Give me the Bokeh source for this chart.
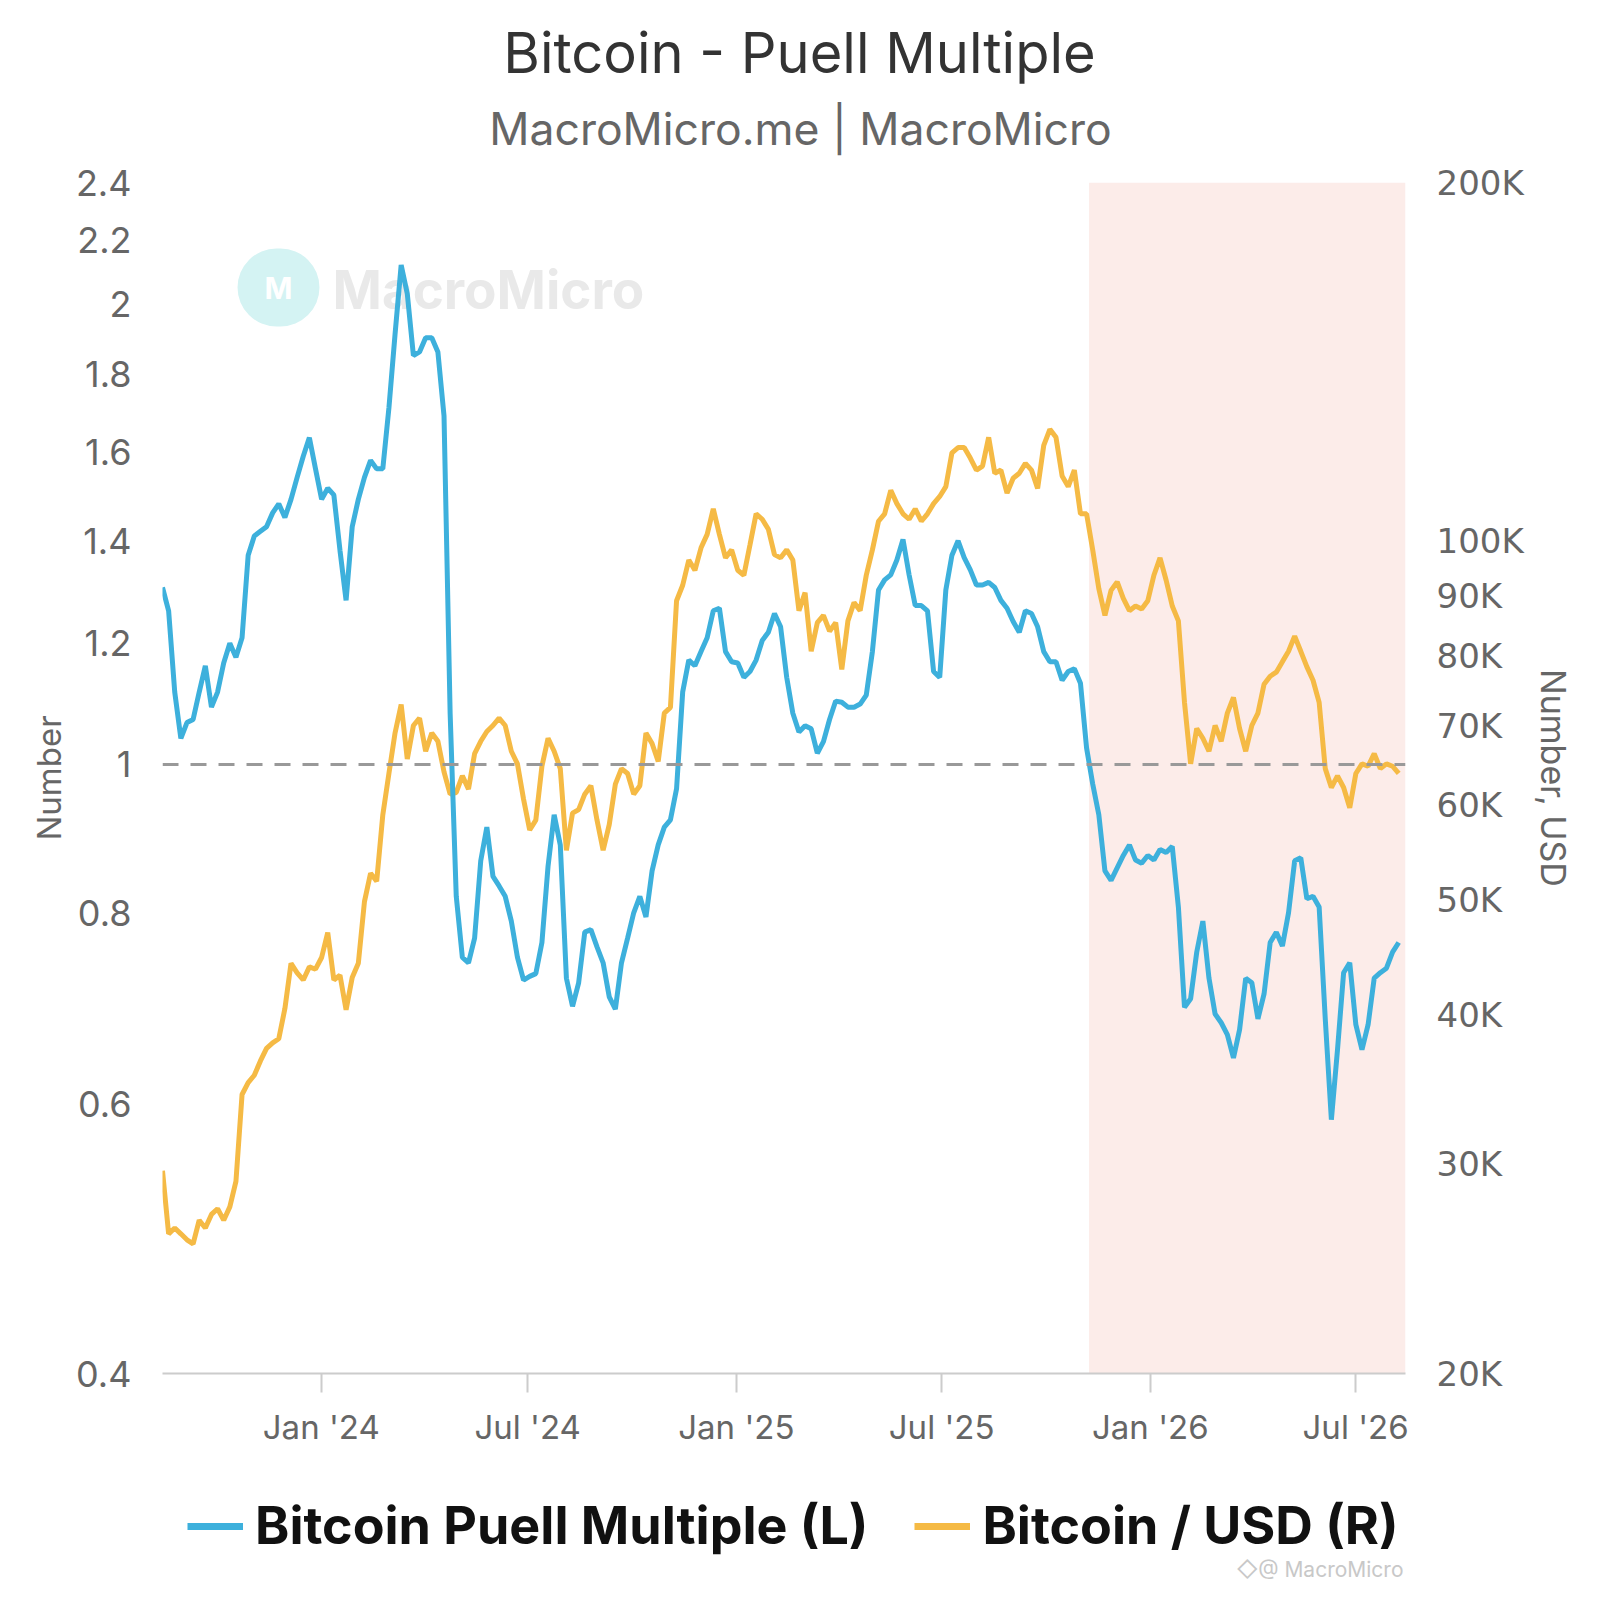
import pandas as pd
from bokeh.plotting import figure
from bokeh.layouts import column
from bokeh.models import (Range1d, LogScale, LogAxis, FixedTicker, CustomJSTickFormatter,
                          Span, BoxAnnotation, Legend, LegendItem, Label)
from bokeh.embed import file_html
from bokeh.resources import INLINE

# ---------------- data ----------------
SERIES_START = "2023-08-14"
SERIES_END = "2026-08-08"
VIEW_START = "2023-08-14"
VIEW_END = "2026-08-14"
SHADE_START = "2025-11-08"

puell = [
    1.305, 1.26, 1.115, 1.04, 1.065, 1.07, 1.115, 1.16, 1.09, 1.115,
    1.165, 1.20, 1.175, 1.21, 1.37, 1.41, 1.42, 1.43, 1.46, 1.48,
    1.45, 1.49, 1.54, 1.59, 1.635, 1.56, 1.49, 1.515, 1.50, 1.38,
    1.28, 1.43, 1.49, 1.54, 1.58, 1.56, 1.56, 1.71, 1.91, 2.12,
    2.03, 1.85, 1.86, 1.90, 1.90, 1.86, 1.69, 1.08, 0.82, 0.748,
    0.742, 0.77, 0.865, 0.91, 0.845, 0.833, 0.82, 0.79, 0.748, 0.723,
    0.727, 0.73, 0.765, 0.858, 0.927, 0.886, 0.725, 0.695, 0.72, 0.777,
    0.78, 0.76, 0.742, 0.705, 0.692, 0.742, 0.77, 0.80, 0.82, 0.795,
    0.852, 0.886, 0.91, 0.92, 0.964, 1.115, 1.17, 1.16, 1.185, 1.21,
    1.26, 1.265, 1.185, 1.167, 1.165, 1.14, 1.15, 1.17, 1.205, 1.22,
    1.255, 1.23, 1.14, 1.08, 1.05, 1.06, 1.055, 1.017, 1.035, 1.07,
    1.10, 1.098, 1.09, 1.09, 1.095, 1.11, 1.185, 1.30, 1.32, 1.33,
    1.36, 1.403, 1.33, 1.27, 1.27, 1.26, 1.15, 1.14, 1.30, 1.37,
    1.40, 1.365, 1.34, 1.31, 1.31, 1.315, 1.305, 1.28, 1.265, 1.24,
    1.22, 1.26, 1.255, 1.23, 1.185, 1.167, 1.167, 1.135, 1.15, 1.155,
    1.13, 1.025, 0.971, 0.927, 0.852, 0.84, 0.856, 0.872, 0.886, 0.866,
    0.862, 0.872, 0.866, 0.88, 0.876, 0.884, 0.807, 0.694, 0.703, 0.754,
    0.79, 0.725, 0.687, 0.678, 0.666, 0.643, 0.671, 0.725, 0.72, 0.682,
    0.708, 0.765, 0.777, 0.761, 0.80, 0.865, 0.869, 0.817, 0.82, 0.807,
    0.682, 0.586, 0.651, 0.731, 0.742, 0.676, 0.651, 0.676, 0.725, 0.731,
    0.736, 0.754, 0.765,
]

btc_k = [
    29.6, 26.2, 26.5, 26.2, 25.9, 25.7, 26.9, 26.5, 27.2, 27.5,
    26.9, 27.6, 29.0, 34.3, 35.1, 35.6, 36.6, 37.5, 37.9, 38.2,
    40.5, 44.2, 43.4, 42.8, 43.9, 43.7, 44.7, 46.9, 42.8, 43.2,
    40.4, 43.0, 44.2, 49.8, 52.6, 51.8, 58.9, 63.8, 69.0, 72.9,
    65.6, 70.0, 71.0, 66.6, 69.0, 67.9, 64.0, 61.3, 61.5, 63.5,
    61.9, 66.3, 67.9, 69.2, 70.0, 71.0, 70.0, 66.6, 65.0, 60.7,
    57.2, 58.3, 64.7, 68.3, 66.6, 64.4, 55.0, 59.1, 59.5, 61.3,
    62.3, 58.3, 55.0, 57.8, 62.5, 64.4, 63.8, 61.3, 62.3, 69.0,
    67.6, 65.3, 71.7, 72.5, 89.1, 91.8, 96.4, 94.5, 98.7, 101.3,
    106.4, 101.3, 96.8, 98.3, 94.5, 93.6, 99.3, 105.4, 104.3, 102.3,
    97.4, 96.8, 98.3, 96.4, 87.4, 90.5, 80.8, 85.4, 86.6, 84.0,
    85.4, 78.0, 85.7, 88.8, 87.4, 93.6, 98.3, 103.9, 105.4, 110.3,
    107.5, 105.4, 104.3, 106.4, 103.9, 105.4, 107.5, 109.0, 111.1, 118.6,
    119.8, 119.8, 117.4, 114.7, 115.6, 122.2, 114.0, 114.7, 109.7, 112.9,
    114.0, 116.2, 114.7, 110.7, 120.3, 124.1, 122.2, 113.4, 111.1, 114.7,
    105.4, 105.4, 98.3, 91.2, 86.6, 90.9, 92.4, 89.5, 87.4, 88.2,
    87.7, 89.1, 93.6, 96.8, 92.7, 88.2, 85.7, 73.2, 65.0, 69.6,
    68.3, 66.6, 70.0, 67.9, 71.7, 73.9, 69.6, 66.6, 70.0, 71.7,
    75.8, 77.0, 77.6, 79.2, 80.8, 83.2, 80.8, 78.4, 76.4, 73.2,
    64.4, 62.1, 63.5, 62.1, 59.7, 63.8, 65.0, 64.7, 66.3, 64.4,
    65.0, 64.7, 63.8,
]
btc = [v * 1000 for v in btc_k]

x_tick_dates = ["2024-01-01", "2024-07-01", "2025-01-01", "2025-07-01", "2026-01-01", "2026-07-01"]
left_ticks = [0.4, 0.6, 0.8, 1, 1.2, 1.4, 1.6, 1.8, 2, 2.2, 2.4]
right_ticks = [20000, 30000, 40000, 50000, 60000, 70000, 80000, 90000, 100000, 200000]

TITLE = "Bitcoin - Puell Multiple"
SUBTITLE = "MacroMicro.me | MacroMicro"
LEFT_LABEL = "Number"
RIGHT_LABEL = "Number, USD"
PUELL_NAME = "Bitcoin Puell Multiple (L)"
BTC_NAME = "Bitcoin / USD (R)"

BLUE = "#3db0dc"
ORANGE = "#f5ba45"
FONT = "Inter"
FRAME_W = 1243
FRAME_H = 1191
BORDER_L = 162
BORDER_R = 179

dates_p = pd.date_range(SERIES_START, SERIES_END, periods=len(puell))
dates_b = pd.date_range(SERIES_START, SERIES_END, periods=len(btc))


def ms(s):
    return pd.Timestamp(s).value // 10**6


def blank_fig(h):
    f = figure(frame_width=FRAME_W, frame_height=h, x_axis_type=None, y_axis_type=None,
               x_range=Range1d(0, 1), y_range=Range1d(0, 1),
               min_border_left=BORDER_L, min_border_right=BORDER_R,
               min_border_top=0, min_border_bottom=0,
               output_backend="svg", toolbar_location=None)
    f.outline_line_color = None
    f.background_fill_color = "white"
    f.border_fill_color = "white"
    return f


# ---------------- title block ----------------
TOP_H = 157
tf = blank_fig(TOP_H)
tf.add_layout(Label(x=637, y=TOP_H - 52, x_units="screen", y_units="screen", text=TITLE,
                    text_align="center", text_baseline="middle", text_font=FONT,
                    text_font_size="56px", text_color="#333333"))
tf.add_layout(Label(x=638, y=TOP_H - 128, x_units="screen", y_units="screen", text=SUBTITLE,
                    text_align="center", text_baseline="middle", text_font=FONT,
                    text_font_size="44.5px", text_color="#666666"))

# ---------------- main chart ----------------
p = figure(frame_width=FRAME_W, frame_height=FRAME_H,
           x_axis_type="datetime", y_axis_type="log",
           x_range=Range1d(ms(VIEW_START), ms(VIEW_END)),
           y_range=Range1d(0.4, 2.4),
           min_border_left=BORDER_L, min_border_right=BORDER_R,
           min_border_top=25, min_border_bottom=80,
           output_backend="svg", toolbar_location=None)
p.outline_line_color = None
p.xgrid.visible = False
p.ygrid.visible = False
p.background_fill_color = "white"
p.border_fill_color = "white"

p.extra_y_ranges = {"usd": Range1d(20000, 200000)}
p.extra_y_scales = {"usd": LogScale()}

p.add_layout(BoxAnnotation(left=ms(SHADE_START), fill_color="#fcece9", fill_alpha=1.0,
                           line_color=None, level="underlay"))

# watermark
p.add_layout(Label(x=116, y=1086, x_units="screen", y_units="screen", text="M",
                   text_align="center", text_baseline="middle", text_font_size="30px",
                   text_font_style="bold", text_color="white", text_font=FONT,
                   background_fill_color="#d4f3f3", padding=(27, 21), border_radius=40,
                   level="underlay"))
p.add_layout(Label(x=170, y=1084, x_units="screen", y_units="screen", text="MacroMicro",
                   text_align="left", text_baseline="middle", text_font_size="53px",
                   text_font_style="bold", text_color="#e9e9e9", text_font=FONT,
                   level="underlay"))

p.add_layout(Span(location=1, dimension="width", line_color="#999999", line_width=3,
                  line_dash="16 12"))

r_btc = p.line(dates_b, btc, y_range_name="usd", line_color=ORANGE, line_width=5)
r_p = p.line(dates_p, puell, line_color=BLUE, line_width=5)

# left axis
la = p.left[0]
la.ticker = FixedTicker(ticks=left_ticks, minor_ticks=[])
la.formatter = CustomJSTickFormatter(code="return String(parseFloat(tick.toFixed(1)));")
la.axis_label = LEFT_LABEL
la.axis_line_color = None
la.major_tick_line_color = None
la.minor_tick_line_color = None
la.major_tick_out = 0
la.major_tick_in = 0
la.major_label_standoff = 31
la.major_label_text_font = FONT
la.major_label_text_font_size = "36px"
la.major_label_text_color = "#666666"
la.axis_label_text_font = FONT
la.axis_label_text_font_size = "33px"
la.axis_label_text_font_style = "normal"
la.axis_label_text_color = "#666666"
la.axis_label_standoff = 4

# right axis
ra = LogAxis(y_range_name="usd",
             ticker=FixedTicker(ticks=right_ticks, minor_ticks=[]),
             formatter=CustomJSTickFormatter(code="return (tick/1000).toFixed(0) + 'K';"),
             axis_label=RIGHT_LABEL)
ra.axis_line_color = None
ra.major_tick_line_color = None
ra.minor_tick_line_color = None
ra.major_tick_out = 0
ra.major_tick_in = 0
ra.major_label_standoff = 31
ra.major_label_text_font = "DejaVu Sans"
ra.major_label_text_font_size = "34px"
ra.major_label_text_color = "#666666"
ra.axis_label_text_font = FONT
ra.axis_label_text_font_size = "34px"
ra.axis_label_text_font_style = "normal"
ra.axis_label_text_color = "#666666"
ra.axis_label_standoff = 6
p.add_layout(ra, "right")

# bottom axis
xa = p.below[0]
xa.ticker = FixedTicker(ticks=[ms(d) for d in x_tick_dates], minor_ticks=[])
xa.formatter = CustomJSTickFormatter(code="""
const m = ["Jan","Feb","Mar","Apr","May","Jun","Jul","Aug","Sep","Oct","Nov","Dec"];
const d = new Date(tick);
return m[d.getUTCMonth()] + " '" + String(d.getUTCFullYear()).slice(2);
""")
xa.axis_line_color = "#cccccc"
xa.axis_line_width = 2
xa.major_tick_line_color = "#cccccc"
xa.major_tick_line_width = 2
xa.major_tick_out = 19
xa.major_tick_in = 0
xa.minor_tick_line_color = None
xa.major_label_standoff = 14
xa.major_label_text_font = FONT
xa.major_label_text_font_size = "33px"
xa.major_label_text_color = "#666666"

# ---------------- legend block ----------------
BOT_H = 128
bf = blank_fig(BOT_H)
nan = float("nan")
g_p = bf.line(x=[nan, nan], y=[nan, nan], line_color=BLUE, line_width=7)
g_b = bf.line(x=[nan, nan], y=[nan, nan], line_color=ORANGE, line_width=7)
legend = Legend(items=[LegendItem(label=PUELL_NAME, renderers=[g_p]),
                       LegendItem(label=BTC_NAME, renderers=[g_b])],
                orientation="horizontal", location=(25, 24),
                label_text_font=FONT, label_text_font_size="52px",
                label_text_font_style="bold", label_text_color="#111111",
                glyph_width=56, glyph_height=40, label_standoff=12, spacing=46,
                border_line_color=None, background_fill_alpha=0,
                padding=0, margin=0)
bf.add_layout(legend, "center")
bf.add_layout(Label(x=FRAME_W - 2, y=12, x_units="screen", y_units="screen",
                    text="\u25C7@ MacroMicro", text_align="right", text_baseline="middle",
                    text_font_size="21px", text_color="#c8c8c8", text_font=FONT))

layout = column(tf, p, bf, spacing=0)
open("out.html", "w").write(file_html(layout, INLINE))
